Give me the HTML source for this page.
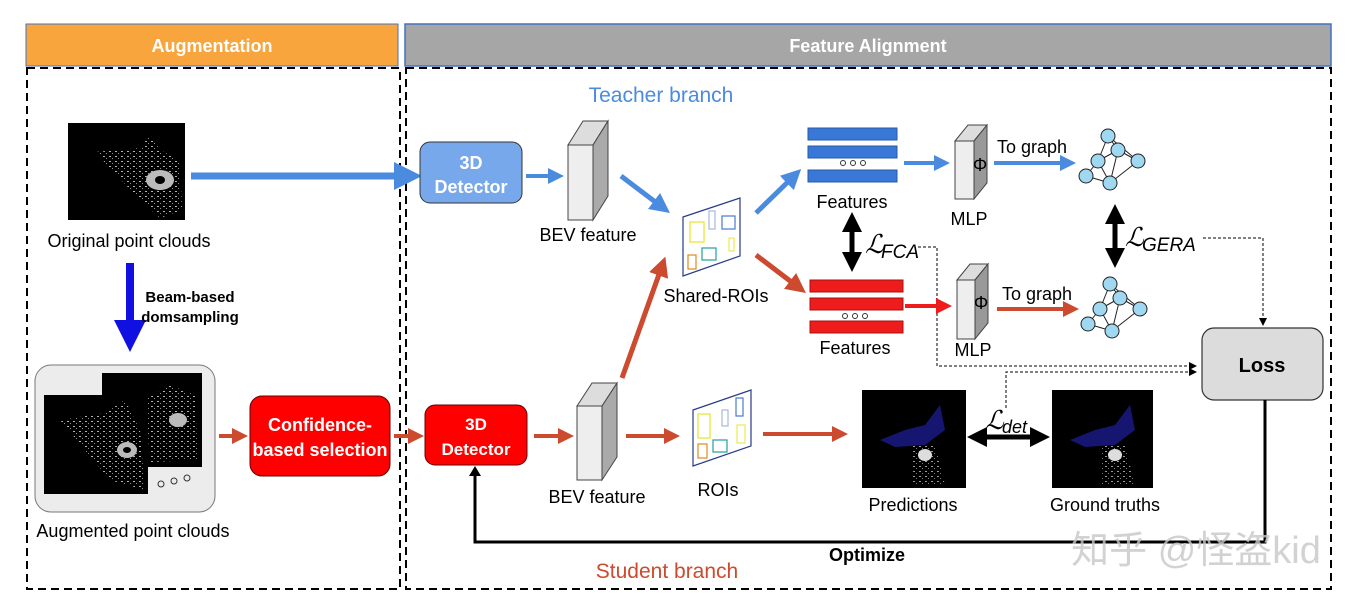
<!DOCTYPE html>
<html><head><meta charset="utf-8"><style>
html,body{margin:0;padding:0;background:#fff;}
svg{display:block;}
text{font-family:"Liberation Sans",Arial,sans-serif;}
</style></head><body>
<svg width="1366" height="604" viewBox="0 0 1366 604" xmlns="http://www.w3.org/2000/svg">
<defs>
<marker id="ab" markerWidth="4" markerHeight="4" refX="2" refY="2" orient="auto" markerUnits="strokeWidth"><path d="M0,0 L4,2 L0,4 z" fill="#4a8be0"/></marker>
<marker id="ar" markerWidth="4" markerHeight="4" refX="2" refY="2" orient="auto" markerUnits="strokeWidth"><path d="M0,0 L4,2 L0,4 z" fill="#cc4a2e"/></marker>
<marker id="arr" markerWidth="4" markerHeight="4" refX="2" refY="2" orient="auto" markerUnits="strokeWidth"><path d="M0,0 L4,2 L0,4 z" fill="#ee1c1c"/></marker>
<marker id="adb" markerWidth="4" markerHeight="4" refX="2" refY="2" orient="auto" markerUnits="strokeWidth"><path d="M0,0 L4,2 L0,4 z" fill="#1010e0"/></marker>
<marker id="ak" markerWidth="8" markerHeight="8" refX="6" refY="4" orient="auto" markerUnits="userSpaceOnUse"><path d="M0,0 L8,4 L0,8 z" fill="#000"/></marker>
<marker id="ak2" markerWidth="4" markerHeight="4" refX="2" refY="2" orient="auto-start-reverse" markerUnits="strokeWidth"><path d="M0,0 L4,2 L0,4 z" fill="#000"/></marker>
<pattern id="spk" width="6" height="5" patternUnits="userSpaceOnUse"><rect x="1" y="1" width="2" height="1" fill="#fff"/><rect x="4" y="3" width="1" height="1" fill="#ccc"/></pattern>
</defs>

<rect x="26" y="24" width="372" height="42" fill="#f8a53d" stroke="#4472c4" stroke-width="1"/>
<text x="212" y="52" fill="#fff" font-size="18" font-weight="bold" text-anchor="middle">Augmentation</text>
<rect x="405" y="24" width="926" height="42" fill="#a6a6a6" stroke="#4472c4" stroke-width="1.5"/>
<text x="868" y="52" fill="#fff" font-size="18" font-weight="bold" text-anchor="middle">Feature Alignment</text>

<rect x="27" y="68" width="373" height="521" fill="none" stroke="#000" stroke-width="2" stroke-dasharray="8,5"/>
<rect x="406" y="68" width="925" height="521" fill="none" stroke="#000" stroke-width="2" stroke-dasharray="8,5"/>

<!-- original point cloud -->
<rect x="68" y="123" width="117" height="97" fill="#000"/>
<path d="M95,152 L140,148 L150,135 L160,150 L180,160 L182,210 L160,218 L140,200 Z" fill="url(#spk)" opacity="0.7"/>
<ellipse cx="160" cy="180" rx="14" ry="10" fill="#bbb"/>
<ellipse cx="160" cy="180" rx="5" ry="4" fill="#000"/>
<text x="129" y="247" font-size="18" text-anchor="middle">Original point clouds</text>

<line x1="130" y1="263" x2="130" y2="336" stroke="#1010e0" stroke-width="8" marker-end="url(#adb)"/>
<text x="190" y="302" font-size="15" font-weight="bold" text-anchor="middle">Beam-based</text>
<text x="190" y="322" font-size="15" font-weight="bold" text-anchor="middle">domsampling</text>

<!-- augmented -->
<rect x="35" y="365" width="180" height="147" rx="16" fill="#ececec" stroke="#777" stroke-width="1"/>
<rect x="102" y="373" width="100" height="94" fill="#000"/>
<path d="M145,400 L170,385 L195,395 L198,460 L150,462 Z" fill="url(#spk)" opacity="0.7"/>
<ellipse cx="178" cy="420" rx="9" ry="7" fill="#bbb"/>
<rect x="44" y="395" width="104" height="99" fill="#000"/>
<path d="M60,420 L105,413 L125,400 L140,430 L145,490 L110,480 Z" fill="url(#spk)" opacity="0.7"/>
<ellipse cx="127" cy="450" rx="10" ry="8" fill="#bbb"/>
<ellipse cx="127" cy="450" rx="4" ry="3" fill="#000"/>
<circle cx="161" cy="484" r="3" fill="none" stroke="#333"/>
<circle cx="174" cy="481" r="3" fill="none" stroke="#333"/>
<circle cx="187" cy="478" r="3" fill="none" stroke="#333"/>
<text x="133" y="537" font-size="18" text-anchor="middle">Augmented point clouds</text>

<line x1="191" y1="176" x2="408" y2="176" stroke="#4a8be0" stroke-width="7" marker-end="url(#ab)"/>

<rect x="420" y="142" width="102" height="61" rx="10" fill="#78a8ec" stroke="#333" stroke-width="1"/>
<text x="471" y="169" font-size="18" font-weight="bold" fill="#fff" text-anchor="middle">3D</text>
<text x="471" y="193" font-size="18" font-weight="bold" fill="#fff" text-anchor="middle">Detector</text>
<line x1="526" y1="176" x2="556" y2="176" stroke="#4a8be0" stroke-width="4" marker-end="url(#ab)"/>

<polygon points="568,145 583,121 608,121 593,145" fill="#ddd" stroke="#444"/>
<polygon points="593,145 608,121 608,196 593,220" fill="#aaa" stroke="#444"/>
<rect x="568" y="145" width="25" height="75" fill="#eee" stroke="#444"/>
<text x="588" y="241" font-size="18" text-anchor="middle">BEV feature</text>
<line x1="621" y1="176" x2="662" y2="207" stroke="#4a8be0" stroke-width="5" marker-end="url(#ab)"/>

<polygon points="683,217 740,198 740,256 683,276" fill="#fff" stroke="#2a3a8a" stroke-width="1.2"/>
<rect x="690" y="222" width="14" height="20" fill="none" stroke="#eaea50" stroke-width="1.5"/>
<rect x="709" y="211" width="6" height="18" fill="none" stroke="#aab8d8" stroke-width="1.2"/>
<rect x="722" y="216" width="13" height="13" fill="none" stroke="#4a7ad0" stroke-width="1.2"/>
<rect x="688" y="255" width="8" height="14" fill="none" stroke="#e08a20" stroke-width="1.2"/>
<rect x="702" y="248" width="14" height="12" fill="none" stroke="#20a0a0" stroke-width="1.2"/>
<rect x="729" y="238" width="5" height="13" fill="none" stroke="#eaea50" stroke-width="1.2"/>
<text x="716" y="302" font-size="18" text-anchor="middle">Shared-ROIs</text>

<line x1="756" y1="213" x2="794" y2="176" stroke="#4a8be0" stroke-width="5" marker-end="url(#ab)"/>
<line x1="756" y1="255" x2="798" y2="287" stroke="#cc4a2e" stroke-width="5" marker-end="url(#ar)"/>

<rect x="808" y="128" width="89" height="12" fill="#3a78d8" stroke="#2a58a8"/>
<rect x="808" y="146" width="89" height="12" fill="#3a78d8" stroke="#2a58a8"/>
<circle cx="843" cy="163" r="2.5" fill="none" stroke="#333"/><circle cx="853" cy="163" r="2.5" fill="none" stroke="#333"/><circle cx="863" cy="163" r="2.5" fill="none" stroke="#333"/>
<rect x="808" y="170" width="89" height="12" fill="#3a78d8" stroke="#2a58a8"/>
<text x="852" y="208" font-size="18" text-anchor="middle">Features</text>

<rect x="810" y="280" width="93" height="12" fill="#ee1c1c" stroke="#a81010"/>
<rect x="810" y="298" width="93" height="12" fill="#ee1c1c" stroke="#a81010"/>
<circle cx="845" cy="316" r="2.5" fill="none" stroke="#333"/><circle cx="855" cy="316" r="2.5" fill="none" stroke="#333"/><circle cx="865" cy="316" r="2.5" fill="none" stroke="#333"/>
<rect x="810" y="321" width="93" height="12" fill="#ee1c1c" stroke="#a81010"/>
<text x="855" y="354" font-size="18" text-anchor="middle">Features</text>

<line x1="852" y1="222" x2="852" y2="262" stroke="#000" stroke-width="5" marker-end="url(#ak2)" marker-start="url(#ak2)"/>
<text x="865" y="253" font-size="26" font-style="italic" font-family="Liberation Serif,serif">ℒ</text>
<text x="881" y="258" font-size="19" font-style="italic" font-family="Liberation Serif,serif">FCA</text>
<polyline points="918,247 937,247 937,366 1195,366" fill="none" stroke="#000" stroke-width="1" stroke-dasharray="3,2" marker-end="url(#ak)"/>

<line x1="904" y1="163" x2="942" y2="163" stroke="#4a8be0" stroke-width="4" marker-end="url(#ab)"/>
<polygon points="955,141 968,125 987,125 974,141" fill="#ddd" stroke="#444"/>
<polygon points="974,141 987,125 987,183 974,199" fill="#999" stroke="#444"/>
<rect x="955" y="141" width="19" height="58" fill="#eee" stroke="#444"/>
<text x="980" y="171" font-size="18" text-anchor="middle" font-family="Liberation Serif,serif">Φ</text>
<text x="969" y="225" font-size="18" text-anchor="middle">MLP</text>
<text x="1032" y="153" font-size="18" text-anchor="middle">To graph</text>
<line x1="994" y1="163" x2="1068" y2="163" stroke="#4a8be0" stroke-width="4" marker-end="url(#ab)"/>

<line x1="905" y1="306" x2="944" y2="306" stroke="#ee1c1c" stroke-width="4" marker-end="url(#arr)"/>
<polygon points="957,280 970,264 988,264 975,280" fill="#ddd" stroke="#444"/>
<polygon points="975,280 988,264 988,323 975,339" fill="#999" stroke="#444"/>
<rect x="957" y="280" width="18" height="59" fill="#eee" stroke="#444"/>
<text x="981" y="309" font-size="18" text-anchor="middle" font-family="Liberation Serif,serif">Φ</text>
<text x="973" y="356" font-size="18" text-anchor="middle">MLP</text>
<text x="1037" y="300" font-size="18" text-anchor="middle">To graph</text>
<line x1="997" y1="309" x2="1071" y2="309" stroke="#cc4a2e" stroke-width="4" marker-end="url(#ar)"/>

<g stroke="#222" stroke-width="1" fill="#9fd8f0">
<line x1="1108" y1="136" x2="1098" y2="161"/><line x1="1108" y1="136" x2="1118" y2="150"/><line x1="1118" y1="150" x2="1098" y2="161"/><line x1="1118" y1="150" x2="1138" y2="161"/><line x1="1118" y1="150" x2="1110" y2="183"/><line x1="1098" y1="161" x2="1086" y2="176"/><line x1="1098" y1="161" x2="1110" y2="183"/><line x1="1086" y1="176" x2="1110" y2="183"/><line x1="1138" y1="161" x2="1110" y2="183"/><line x1="1108" y1="136" x2="1138" y2="161"/>
<circle cx="1108" cy="136" r="7"/><circle cx="1118" cy="150" r="7"/><circle cx="1098" cy="161" r="7"/><circle cx="1138" cy="161" r="7"/><circle cx="1086" cy="176" r="7"/><circle cx="1110" cy="183" r="7"/>
</g>
<g transform="translate(2,148)" stroke="#222" stroke-width="1" fill="#9fd8f0">
<line x1="1108" y1="136" x2="1098" y2="161"/><line x1="1108" y1="136" x2="1118" y2="150"/><line x1="1118" y1="150" x2="1098" y2="161"/><line x1="1118" y1="150" x2="1138" y2="161"/><line x1="1118" y1="150" x2="1110" y2="183"/><line x1="1098" y1="161" x2="1086" y2="176"/><line x1="1098" y1="161" x2="1110" y2="183"/><line x1="1086" y1="176" x2="1110" y2="183"/><line x1="1138" y1="161" x2="1110" y2="183"/><line x1="1108" y1="136" x2="1138" y2="161"/>
<circle cx="1108" cy="136" r="7"/><circle cx="1118" cy="150" r="7"/><circle cx="1098" cy="161" r="7"/><circle cx="1138" cy="161" r="7"/><circle cx="1086" cy="176" r="7"/><circle cx="1110" cy="183" r="7"/>
</g>

<line x1="1115" y1="214" x2="1115" y2="258" stroke="#000" stroke-width="5" marker-end="url(#ak2)" marker-start="url(#ak2)"/>
<text x="1125" y="246" font-size="26" font-style="italic" font-family="Liberation Serif,serif">ℒ</text>
<text x="1142" y="251" font-size="19" font-style="italic" font-family="Liberation Serif,serif">GERA</text>
<polyline points="1203,238 1263,238 1263,324" fill="none" stroke="#000" stroke-width="1" stroke-dasharray="3,2" marker-end="url(#ak)"/>

<rect x="1202" y="328" width="121" height="72" rx="12" fill="#dcdcdc" stroke="#333" stroke-width="1.2"/>
<text x="1262" y="372" font-size="20" font-weight="bold" text-anchor="middle">Loss</text>

<line x1="219" y1="436" x2="240" y2="436" stroke="#cc4a2e" stroke-width="4" marker-end="url(#ar)"/>
<rect x="250" y="396" width="140" height="80" rx="12" fill="#f00" stroke="#600" stroke-width="1"/>
<text x="320" y="431" font-size="18" font-weight="bold" fill="#fff" text-anchor="middle">Confidence-</text>
<text x="320" y="456" font-size="18" font-weight="bold" fill="#fff" text-anchor="middle">based selection</text>
<line x1="394" y1="436" x2="416" y2="436" stroke="#cc4a2e" stroke-width="4" marker-end="url(#ar)"/>
<rect x="425" y="405" width="102" height="60" rx="10" fill="#f00" stroke="#600" stroke-width="1"/>
<text x="476" y="430" font-size="17" font-weight="bold" fill="#fff" text-anchor="middle">3D</text>
<text x="476" y="455" font-size="17" font-weight="bold" fill="#fff" text-anchor="middle">Detector</text>
<line x1="534" y1="436" x2="566" y2="436" stroke="#cc4a2e" stroke-width="4" marker-end="url(#ar)"/>

<polygon points="577,406 592,383 617,383 602,406" fill="#ddd" stroke="#444"/>
<polygon points="602,406 617,383 617,457 602,480" fill="#aaa" stroke="#444"/>
<rect x="577" y="406" width="25" height="74" fill="#eee" stroke="#444"/>
<text x="597" y="503" font-size="18" text-anchor="middle">BEV feature</text>
<line x1="622" y1="378" x2="662" y2="266" stroke="#cc4a2e" stroke-width="5" marker-end="url(#ar)"/>
<line x1="626" y1="436" x2="672" y2="436" stroke="#cc4a2e" stroke-width="4" marker-end="url(#ar)"/>

<polygon points="693,410 751,390 751,446 693,466" fill="#fff" stroke="#2a3a8a" stroke-width="1.2"/>
<rect x="698" y="414" width="12" height="24" fill="none" stroke="#eaea50" stroke-width="1.5"/>
<rect x="722" y="410" width="6" height="16" fill="none" stroke="#aab8d8" stroke-width="1.2"/>
<rect x="736" y="398" width="7" height="18" fill="none" stroke="#4a7ad0" stroke-width="1.2"/>
<rect x="698" y="444" width="9" height="14" fill="none" stroke="#e08a20" stroke-width="1.2"/>
<rect x="713" y="440" width="14" height="12" fill="none" stroke="#20a0a0" stroke-width="1.2"/>
<rect x="737" y="425" width="8" height="18" fill="none" stroke="#eaea50" stroke-width="1.2"/>
<text x="718" y="496" font-size="18" text-anchor="middle">ROIs</text>
<line x1="763" y1="434" x2="840" y2="434" stroke="#cc4a2e" stroke-width="4" marker-end="url(#ar)"/>

<rect x="862" y="390" width="104" height="98" fill="#000"/>
<path d="M880,440 L905,430 L925,425 L940,405 L945,430 L925,445 L895,447 Z" fill="#2020a0" opacity="0.7"/>
<path d="M912,445 L935,445 L945,485 L912,485 Z" fill="url(#spk)" opacity="0.6"/>
<ellipse cx="925" cy="455" rx="7" ry="6" fill="#ddd"/>
<text x="913" y="511" font-size="18" text-anchor="middle">Predictions</text>
<rect x="1052" y="390" width="101" height="98" fill="#000"/>
<path d="M1070,440 L1095,430 L1115,425 L1130,405 L1135,430 L1115,445 L1085,447 Z" fill="#2020a0" opacity="0.7"/>
<path d="M1102,445 L1125,445 L1135,485 L1102,485 Z" fill="url(#spk)" opacity="0.6"/>
<ellipse cx="1115" cy="455" rx="7" ry="6" fill="#ddd"/>
<text x="1105" y="511" font-size="18" text-anchor="middle">Ground truths</text>

<line x1="977" y1="437" x2="1040" y2="437" stroke="#000" stroke-width="5" marker-end="url(#ak2)" marker-start="url(#ak2)"/>
<text x="985" y="429" font-size="26" font-style="italic" font-family="Liberation Serif,serif">ℒ</text>
<text x="1002" y="433" font-size="18" font-style="italic" font-family="Liberation Serif,serif">det</text>
<polyline points="1006,408 1006,372 1195,372" fill="none" stroke="#000" stroke-width="1" stroke-dasharray="3,2" marker-end="url(#ak)"/>

<polyline points="1265,400 1265,542 475,542 475,474" fill="none" stroke="#000" stroke-width="3"/>
<path d="M469,476 L475,466 L481,476 Z" fill="#000"/>
<text x="867" y="561" font-size="18" font-weight="bold" text-anchor="middle">Optimize</text>

<text x="661" y="102" font-size="21" fill="#4a8be0" text-anchor="middle">Teacher branch</text>
<text x="667" y="578" font-size="21" fill="#cc4a2e" text-anchor="middle">Student branch</text>

<text x="1196" y="563" font-size="38" fill="#c8c8c8" opacity="0.8" text-anchor="middle" font-family="Liberation Sans,'Noto Sans CJK SC',sans-serif">知乎 @怪盗kid</text>
</svg>
</body></html>
